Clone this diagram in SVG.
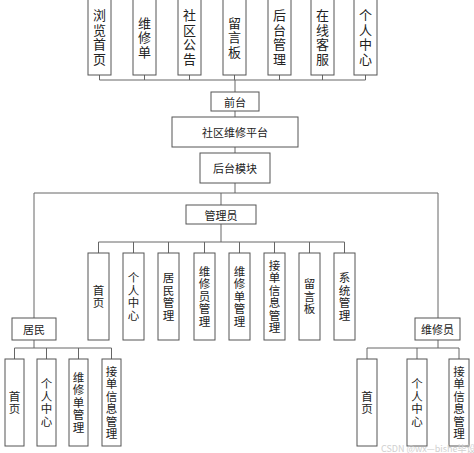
<svg xmlns="http://www.w3.org/2000/svg" width="474" height="453" viewBox="0 0 474 453">
<style>
.b{fill:#fff;stroke:#555;stroke-width:1}
.c{fill:none;stroke:#666;stroke-width:1}
text{font-family:"Noto Sans CJK SC","Noto Sans",sans-serif;fill:#222;text-anchor:middle;dominant-baseline:central}
.v{writing-mode:vertical-rl;glyph-orientation-vertical:0}
.t{font-size:13px;letter-spacing:1.5px}
.m{font-size:11.5px;letter-spacing:1px}
.h{font-size:11px}
.w{font-size:9px;fill:#d0d0d0;text-anchor:start}
</style>
<rect width="474" height="453" fill="#fff"/>
<g id="connectors">
<path class="c" d="M99.5 75V80M144.5 75V80M189.5 75V80M234.5 75V80M279.5 75V80M322.5 75V80M365.5 75V80M99.5 80H365.5M235 80V92M235 111V117M235 147V153M235 183V193M34 193H438M34 193V318M438 193V318M221 193V205M221 224V242M98.5 242H344.5M98.5 242V253M133.5 242V253M168.5 242V253M204.5 242V253M239.5 242V253M274.5 242V253M309.5 242V253M344.5 242V253M34 340V348M14.5 348H111.5M14.5 348V359M46.5 348V359M78.5 348V359M111.5 348V359M438 340V348M367 348H459M367 348V359M417 348V359M459 348V359"/>
</g>
<g id="t1"><rect class="b" x="88" y="-1" width="23" height="76"/><text class="v t" x="99.5" y="38">浏览首页</text></g>
<g id="t2"><rect class="b" x="133" y="-1" width="23" height="76"/><text class="v t" x="144.5" y="38">维修单</text></g>
<g id="t3"><rect class="b" x="178" y="-1" width="23" height="76"/><text class="v t" x="189.5" y="38">社区公告</text></g>
<g id="t4"><rect class="b" x="223" y="-1" width="23" height="76"/><text class="v t" x="234.5" y="38">留言板</text></g>
<g id="t5"><rect class="b" x="268" y="-1" width="23" height="76"/><text class="v t" x="279.5" y="38">后台管理</text></g>
<g id="t6"><rect class="b" x="311" y="-1" width="23" height="76"/><text class="v t" x="322.5" y="38">在线客服</text></g>
<g id="t7"><rect class="b" x="354" y="-1" width="23" height="76"/><text class="v t" x="365.5" y="38">个人中心</text></g>
<g id="qiantai"><rect class="b" x="211" y="92" width="48" height="19"/><text class="h" x="235" y="101.5">前台</text></g>
<g id="platform"><rect class="b" x="172" y="117" width="126" height="30"/><text class="h" x="235" y="132">社区维修平台</text></g>
<g id="backend"><rect class="b" x="200" y="153" width="70" height="30"/><text class="h" x="235" y="168">后台模块</text></g>
<g id="admin"><rect class="b" x="186" y="205" width="70" height="19"/><text class="h" x="221" y="214.5">管理员</text></g>
<g id="m1"><rect class="b" x="88" y="253" width="21" height="87"/><text class="v m" x="98.5" y="297">首页</text></g>
<g id="m2"><rect class="b" x="123" y="253" width="21" height="87"/><text class="v m" x="133.5" y="297">个人中心</text></g>
<g id="m3"><rect class="b" x="158" y="253" width="21" height="87"/><text class="v m" x="168.5" y="297">居民管理</text></g>
<g id="m4"><rect class="b" x="194" y="253" width="21" height="87"/><text class="v m" x="204.5" y="297">维修员管理</text></g>
<g id="m5"><rect class="b" x="229" y="253" width="21" height="87"/><text class="v m" x="239.5" y="297">维修单管理</text></g>
<g id="m6"><rect class="b" x="264" y="253" width="21" height="87"/><text class="v m" x="274.5" y="297">接单信息管理</text></g>
<g id="m7"><rect class="b" x="299" y="253" width="21" height="87"/><text class="v m" x="309.5" y="297">留言板</text></g>
<g id="m8"><rect class="b" x="334" y="253" width="21" height="87"/><text class="v m" x="344.5" y="297">系统管理</text></g>
<g id="resident"><rect class="b" x="12" y="318" width="44" height="22"/><text class="h" x="34" y="329">居民</text></g>
<g id="repairman"><rect class="b" x="415" y="318" width="45" height="22"/><text class="h" x="437.5" y="329">维修员</text></g>
<g id="r1"><rect class="b" x="5" y="359" width="19" height="87"/><text class="v m" x="14.5" y="403">首页</text></g>
<g id="r2"><rect class="b" x="37" y="359" width="19" height="87"/><text class="v m" x="46.5" y="403">个人中心</text></g>
<g id="r3"><rect class="b" x="69" y="359" width="19" height="87"/><text class="v m" x="78.5" y="403">维修单管理</text></g>
<g id="r4"><rect class="b" x="102" y="359" width="19" height="87"/><text class="v m" x="111.5" y="403">接单信息管理</text></g>
<g id="w1"><rect class="b" x="357" y="359" width="20" height="87"/><text class="v m" x="367" y="403">首页</text></g>
<g id="w2"><rect class="b" x="407" y="359" width="20" height="87"/><text class="v m" x="417" y="403">个人中心</text></g>
<g id="w3"><rect class="b" x="449" y="359" width="20" height="87"/><text class="v m" x="459" y="403">接单信息管理</text></g>
<text class="w" x="381" y="448">CSDN @wx—bishe毕设</text>
</svg>
